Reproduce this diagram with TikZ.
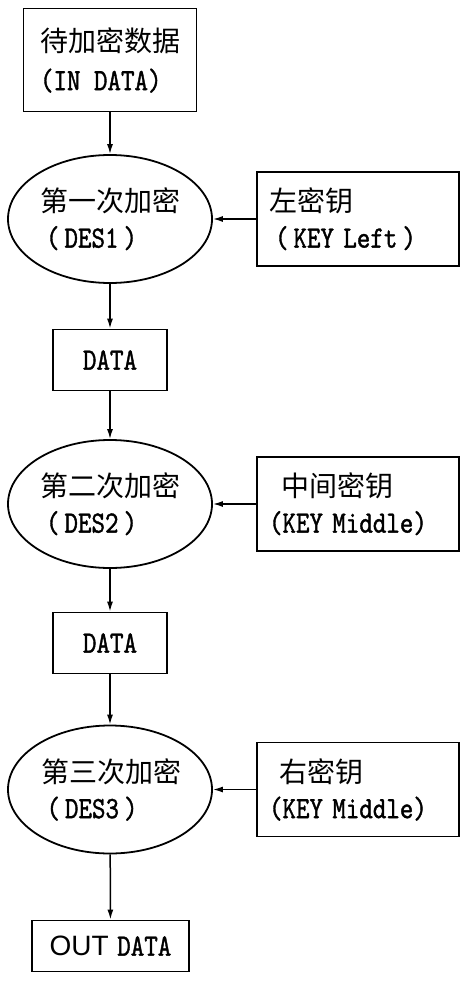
\documentclass[tikz,border=0pt]{standalone}
\usepackage{fontspec}
\newfontfamily\cjkfont{Noto Sans CJK SC}
\newfontfamily\enfont{lmmono10-regular}[Extension=.otf,FakeStretch=0.83,FakeBold=1.2]
\newfontfamily\outfont{Liberation Sans}
\usetikzlibrary{shapes.geometric,arrows.meta}

\newcommand{\zhtxt}[1]{{\cjkfont #1}}
\newcommand{\entxt}[1]{{\enfont\fontsize{31}{36}\selectfont #1}}
\newcommand{\paren}[1]{\entxt{(\hspace{5pt}#1\hspace{5pt})}}

\begin{document}
\begin{tikzpicture}[x=1pt,y=-1pt,object/.style={draw,line width=1.8pt,font=\fontsize{28}{36}\selectfont},box/.style={object,rectangle,inner sep=0pt},cipher/.style={object,ellipse,minimum width=204pt,minimum height=128pt,inner sep=0pt,align=left},keybox/.style={object,rectangle,text width=178pt,inner xsep=12pt,minimum height=94pt,align=left},arrow/.style={-{Latex[length=10pt,width=6pt]},line width=1.5pt}]
  \useasboundingbox (0,0) rectangle (474,987);

  \node[box,minimum width=173pt,minimum height=103pt,align=left] (in data) at (110,60) {\zhtxt{待加密数据}\\[3pt]\entxt{(IN DATA)}};

  \node[cipher] (des1) at (110,219) {\zhtxt{第一次加密}\\\hspace*{6pt}\paren{DES1}};
  \node[keybox] (key left) at (358,219) {\zhtxt{左密钥}\\\hspace*{6pt}\paren{KEY Left}};

  \node[box,minimum width=114pt,minimum height=61pt] (data1) at (110,360) {\entxt{DATA}};

  \node[cipher] (des2) at (110,504) {\zhtxt{第二次加密}\\\hspace*{6pt}\paren{DES2}};
  \node[keybox] (key middle) at (358,504) {\hspace*{12pt}\zhtxt{中间密钥}\\\entxt{(KEY Middle)}};

  \node[box,minimum width=114pt,minimum height=61pt] (data2) at (110,643) {\entxt{DATA}};

  \node[cipher] (des3) at (110,789.5) {\hspace*{3pt}\zhtxt{第三次加密}\\\hspace*{8pt}\paren{DES3}};
  \node[keybox] (key right) at (358,789.5) {\hspace*{10pt}\zhtxt{右密钥}\\\entxt{(KEY Middle)}};

  \node[box,minimum width=157pt,minimum height=51pt] (out data) at (110.5,946) {{\outfont OUT} \entxt{DATA}};

  \draw[arrow] (in data) -- (des1);
  \draw[arrow] (des1) -- (data1);
  \draw[arrow] (data1) -- (des2);
  \draw[arrow] (des2) -- (data2);
  \draw[arrow] (data2) -- (des3);
  \draw[arrow] (des3) -- (out data);

  \draw[arrow] (key left) -- (des1);
  \draw[arrow] (key middle) -- (des2);
  \draw[arrow] (key right) -- (des3);
\end{tikzpicture}
\end{document}
